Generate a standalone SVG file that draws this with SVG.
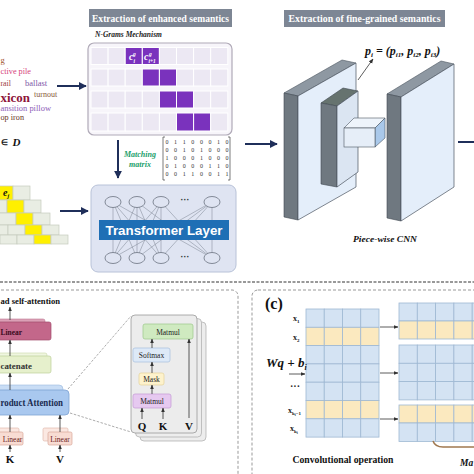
<svg xmlns="http://www.w3.org/2000/svg" width="474" height="474" viewBox="0 0 474 474">
<defs>
<marker id="nav" viewBox="0 0 10 10" refX="9" refY="5" markerWidth="4" markerHeight="4" orient="auto" markerUnits="strokeWidth"><path d="M0,0 L10,5 L0,10 z" fill="#1f2f5a"/></marker>
<marker id="sm" viewBox="0 0 10 10" refX="9" refY="5" markerWidth="6" markerHeight="6" orient="auto" markerUnits="strokeWidth"><path d="M0,1 L10,5 L0,9 z" fill="#333"/></marker>
</defs>
<style>
.serif{font-family:"Liberation Serif","Times New Roman",serif}
.b{font-weight:bold}
.it{font-style:italic}
.title{font-family:"Liberation Serif",serif;font-weight:bold;fill:#fff;font-size:9.5px}
.nav{stroke:#1f2f5a;stroke-width:2;fill:none;marker-end:url(#nav)}
.thin{stroke:#333;stroke-width:0.8;fill:none;marker-end:url(#sm)}
.cell{fill:#ece8f3;stroke:#fff;stroke-width:1}
.pur{fill:#7a32bd;stroke:#fff;stroke-width:1}
.emb{fill:#e9ede3;stroke:#c5cbbd;stroke-width:0.7}
.yel{fill:#fff000;stroke:#c5cbbd;stroke-width:0.7}
.node{fill:#dfe4f2;stroke:#6b7280;stroke-width:0.8}
.tl{stroke:#7a8290;stroke-width:0.5}
.gb{fill:#d4e3f3;stroke:#9fb8d3;stroke-width:0.8}
.gy{fill:#fbe9bf;stroke:#9fb8d3;stroke-width:0.8}
.dash{fill:none;stroke:#999;stroke-width:1;stroke-dasharray:3 2}
.lbl{font-family:"Liberation Serif",serif;font-size:7.5px;fill:#222;text-anchor:middle}
.big{font-family:"Liberation Serif",serif;font-weight:bold;font-size:11px;fill:#111;text-anchor:middle}
.mx{font-family:"Liberation Serif",serif;font-size:6px;fill:#333;text-anchor:middle}
</style>
<rect width="474" height="474" fill="#fff"/>

<!-- Panel borders -->
<g id="panels">
<line x1="0" y1="282" x2="474" y2="282" stroke="#999" stroke-width="1.8" stroke-dasharray="3 1.5"/>
<rect class="dash" x="-10" y="290" width="248" height="200" rx="6"/>
<rect class="dash" x="252" y="290" width="240" height="200" rx="6"/>
</g>

<!-- Word cloud (left part cropped in the picture) -->
<g id="lexicon" class="serif">
<text x="0.5" y="63" font-size="8.5" fill="#a0522d">g</text>
<text x="0.5" y="74" font-size="8.5" fill="#d6427c" textLength="30.5" lengthAdjust="spacingAndGlyphs">ctive pile</text>
<text x="0.5" y="86" font-size="8.5" fill="#a0413c" textLength="10.5" lengthAdjust="spacingAndGlyphs">rail</text>
<text x="25" y="85.5" font-size="8.5" fill="#7e57a8">ballast</text>
<text x="0.5" y="101.5" font-size="13" font-weight="bold" fill="#8e1537" textLength="29.5" lengthAdjust="spacingAndGlyphs">xicon</text>
<text x="34" y="97" font-size="8" fill="#8a5a3a">turnout</text>
<text x="0.5" y="111" font-size="8.5" fill="#8d5db8" textLength="50.5" lengthAdjust="spacingAndGlyphs">ansition pillow</text>
<text x="0.5" y="120" font-size="8.5" fill="#6a3522" textLength="23.5" lengthAdjust="spacingAndGlyphs">op iron</text>
<text x="0.5" y="145" font-size="8" font-weight="bold" fill="#111">∈</text>
<text x="12.5" y="146" font-size="11" font-weight="bold" font-style="italic" fill="#111">D</text>
</g>

<!-- Embedding staircase -->
<g id="embeddings">
<rect class="yel" x="-5" y="186" width="18" height="14"/><rect class="emb" x="13" y="186" width="17" height="14"/>
<rect class="emb" x="-10" y="200" width="17" height="13"/><rect class="yel" x="7" y="200" width="17" height="13"/><rect class="emb" x="24" y="200" width="17" height="13"/>
<rect class="emb" x="-1" y="213" width="17" height="12"/><rect class="yel" x="16" y="213" width="17" height="12"/><rect class="emb" x="33" y="213" width="17" height="12"/>
<rect class="emb" x="-9" y="225" width="17" height="10"/><rect class="emb" x="8" y="225" width="17" height="10"/><rect class="yel" x="25" y="225" width="17" height="10"/><rect class="emb" x="42" y="225" width="17" height="10"/>
<rect class="emb" x="0" y="235" width="17" height="9"/><rect class="emb" x="17" y="235" width="17" height="9"/><rect class="yel" x="34" y="235" width="17" height="9"/><rect class="emb" x="51" y="235" width="17" height="9"/>
<text class="serif b it" x="3" y="196" font-size="10" fill="#111">e<tspan font-size="6" dy="2">j</tspan></text>
</g>

<!-- Extraction of enhanced semantics -->
<g id="title1">
<rect x="89" y="9" width="143" height="18" fill="#7d8694"/>
<text class="title" x="160.5" y="21.5" text-anchor="middle" textLength="137" lengthAdjust="spacingAndGlyphs">Extraction of enhanced semantics</text>
</g>
<g id="ngrams">
<text class="serif b it" x="95" y="37" font-size="7.5" fill="#222">N-Grams Mechanism</text>
<rect x="88" y="43" width="144" height="92" rx="6" fill="#f7f5fa" stroke="#b0aab8" stroke-width="1.2"/>
<g>
<rect class="cell" x="91" y="47.5" width="17.1" height="17"/><rect class="cell" x="108.1" y="47.5" width="17.1" height="17"/><rect class="pur" x="125.2" y="47.5" width="17.1" height="17"/><rect class="pur" x="142.3" y="47.5" width="17.1" height="17"/><rect class="cell" x="159.4" y="47.5" width="17.1" height="17"/><rect class="cell" x="176.5" y="47.5" width="17.1" height="17"/><rect class="cell" x="193.6" y="47.5" width="17.1" height="17"/><rect class="cell" x="210.7" y="47.5" width="17.1" height="17"/>
<rect class="cell" x="91" y="69" width="17.1" height="17"/><rect class="cell" x="108.1" y="69" width="17.1" height="17"/><rect class="cell" x="125.2" y="69" width="17.1" height="17"/><rect class="pur" x="142.3" y="69" width="17.1" height="17"/><rect class="pur" x="159.4" y="69" width="17.1" height="17"/><rect class="cell" x="176.5" y="69" width="17.1" height="17"/><rect class="cell" x="193.6" y="69" width="17.1" height="17"/><rect class="cell" x="210.7" y="69" width="17.1" height="17"/>
<rect class="cell" x="91" y="91" width="17.1" height="17"/><rect class="cell" x="108.1" y="91" width="17.1" height="17"/><rect class="cell" x="125.2" y="91" width="17.1" height="17"/><rect class="cell" x="142.3" y="91" width="17.1" height="17"/><rect class="pur" x="159.4" y="91" width="17.1" height="17"/><rect class="pur" x="176.5" y="91" width="17.1" height="17"/><rect class="cell" x="193.6" y="91" width="17.1" height="17"/><rect class="cell" x="210.7" y="91" width="17.1" height="17"/>
<rect class="cell" x="91" y="113" width="17.1" height="18"/><rect class="cell" x="108.1" y="113" width="17.1" height="18"/><rect class="cell" x="125.2" y="113" width="17.1" height="18"/><rect class="cell" x="142.3" y="113" width="17.1" height="18"/><rect class="cell" x="159.4" y="113" width="17.1" height="18"/><rect class="pur" x="176.5" y="113" width="17.1" height="18"/><rect class="pur" x="193.6" y="113" width="17.1" height="18"/><rect class="cell" x="210.7" y="113" width="17.1" height="18"/>
</g>
<text class="serif b it" x="129" y="60" font-size="10" fill="#fff">c<tspan font-size="5.5" dy="2.5">i</tspan><tspan font-size="5.5" dx="-2" dy="-7">g</tspan></text>
<text class="serif b it" x="144" y="60" font-size="10" fill="#fff">c<tspan font-size="5.5" dy="2.5">i+1</tspan><tspan font-size="5.5" dx="-7" dy="-7">g</tspan></text>
</g>

<!-- Matching matrix -->
<g id="matrix">
<text class="serif b it" x="140" y="157" font-size="8" fill="#21a06a" text-anchor="middle">Matching</text>
<text class="serif b it" x="140" y="167" font-size="8" fill="#21a06a" text-anchor="middle">matrix</text>
<path d="M165,137 h-2 v43 h2 M228,137 h2 v43 h-2" fill="none" stroke="#444" stroke-width="0.7"/>
<text class="mx" y="144"><tspan x="167">0</tspan><tspan x="175.6">1</tspan><tspan x="184.2">1</tspan><tspan x="192.8">0</tspan><tspan x="201.4">0</tspan><tspan x="210">0</tspan><tspan x="218.6">1</tspan><tspan x="227">0</tspan></text>
<text class="mx" y="152"><tspan x="167">0</tspan><tspan x="175.6">0</tspan><tspan x="184.2">1</tspan><tspan x="192.8">0</tspan><tspan x="201.4">1</tspan><tspan x="210">0</tspan><tspan x="218.6">0</tspan><tspan x="227">0</tspan></text>
<text class="mx" y="160"><tspan x="167">1</tspan><tspan x="175.6">0</tspan><tspan x="184.2">0</tspan><tspan x="192.8">0</tspan><tspan x="201.4">1</tspan><tspan x="210">0</tspan><tspan x="218.6">0</tspan><tspan x="227">0</tspan></text>
<text class="mx" y="168"><tspan x="167">0</tspan><tspan x="175.6">1</tspan><tspan x="184.2">0</tspan><tspan x="192.8">0</tspan><tspan x="201.4">0</tspan><tspan x="210">1</tspan><tspan x="218.6">1</tspan><tspan x="227">0</tspan></text>
<text class="mx" y="176"><tspan x="167">0</tspan><tspan x="175.6">0</tspan><tspan x="184.2">1</tspan><tspan x="192.8">1</tspan><tspan x="201.4">0</tspan><tspan x="210">0</tspan><tspan x="218.6">1</tspan><tspan x="227">1</tspan></text>
</g>

<!-- Transformer -->
<g id="transformer">
<rect x="91" y="185" width="145" height="87" rx="7" fill="#dfe4f2" stroke="#b8c2d8" stroke-width="1"/>
<g>
<line class="tl" x1="113" y1="202" x2="113" y2="258"/><line class="tl" x1="113" y1="202" x2="137" y2="258"/><line class="tl" x1="113" y1="202" x2="161" y2="258"/><line class="tl" x1="113" y1="202" x2="212" y2="258"/>
<line class="tl" x1="137" y1="202" x2="113" y2="258"/><line class="tl" x1="137" y1="202" x2="137" y2="258"/><line class="tl" x1="137" y1="202" x2="161" y2="258"/><line class="tl" x1="137" y1="202" x2="212" y2="258"/>
<line class="tl" x1="161" y1="202" x2="113" y2="258"/><line class="tl" x1="161" y1="202" x2="137" y2="258"/><line class="tl" x1="161" y1="202" x2="161" y2="258"/><line class="tl" x1="161" y1="202" x2="212" y2="258"/>
<line class="tl" x1="212" y1="202" x2="113" y2="258"/><line class="tl" x1="212" y1="202" x2="137" y2="258"/><line class="tl" x1="212" y1="202" x2="161" y2="258"/><line class="tl" x1="212" y1="202" x2="212" y2="258"/>
</g>
<ellipse class="node" cx="113" cy="202" rx="8" ry="5.5"/><ellipse class="node" cx="137" cy="202" rx="8" ry="5.5"/><ellipse class="node" cx="161" cy="202" rx="8" ry="5.5"/><ellipse class="node" cx="212" cy="202" rx="8" ry="5.5"/>
<ellipse class="node" cx="113" cy="258" rx="8" ry="5.5"/><ellipse class="node" cx="137" cy="258" rx="8" ry="5.5"/><ellipse class="node" cx="161" cy="258" rx="8" ry="5.5"/><ellipse class="node" cx="212" cy="258" rx="8" ry="5.5"/>
<text x="185" y="203" font-family="Liberation Sans,sans-serif" font-weight="bold" font-size="9" text-anchor="middle" fill="#333">···</text>
<text x="185" y="260" font-family="Liberation Sans,sans-serif" font-weight="bold" font-size="9" text-anchor="middle" fill="#333">···</text>
<rect x="99" y="220" width="130" height="20" fill="#1f6fb5"/>
<text x="164" y="235" font-family="Liberation Sans,Arial,sans-serif" font-weight="bold" font-size="13" fill="#fff" text-anchor="middle" textLength="117" lengthAdjust="spacingAndGlyphs">Transformer Layer</text>
</g>

<!-- Extraction of fine-grained semantics -->
<g id="title2">
<rect x="284" y="10" width="161" height="17" fill="#7d8694"/>
<text class="title" x="364.5" y="22" text-anchor="middle" textLength="152" lengthAdjust="spacingAndGlyphs">Extraction of fine-grained semantics</text>
</g>
<g id="formula">
<text class="serif b it" x="365" y="55" font-size="12" fill="#111">p<tspan font-size="7" dy="2">i</tspan><tspan dy="-2"> = (p</tspan><tspan font-size="7" dy="2">i1</tspan><tspan dy="-2">, p</tspan><tspan font-size="7" dy="2">i2</tspan><tspan dy="-2">, p</tspan><tspan font-size="7" dy="2">i3</tspan><tspan dy="-2">)</tspan></text>
</g>

<!-- Piece-wise CNN -->
<g id="cnn">
<polygon points="284,93 298,96 356,63 342,60" fill="#8e98a2" stroke="#4c5560" stroke-width="0.6"/>
<polygon points="284,93 298,96 298,220 284,217" fill="#6f7880" stroke="#3f4850" stroke-width="0.6"/>
<polygon points="298,96 356,63 356,187 298,220" fill="#e4eefa" stroke="#4c5560" stroke-width="0.7"/>
<polygon points="321,103 337,106 358,91 343,88" fill="#66736f" stroke="#3f4850" stroke-width="0.6"/>
<polygon points="321,103 337,106 337,187 321,184" fill="#6f7880" stroke="#3f4850" stroke-width="0.6"/>
<polygon points="337,106 358,91 358,172 337,187" fill="#dbe5f2" stroke="#4c5560" stroke-width="0.7"/>
<polygon points="344,128 354,118 385,118 375,128" fill="#eef4fb" stroke="#4c5560" stroke-width="0.6"/>
<polygon points="375,128 385,118 385,138 375,147" fill="#a9c8ea" stroke="#4c5560" stroke-width="0.6"/>
<rect x="344" y="128" width="31" height="19" fill="#e6eef8" stroke="#4c5560" stroke-width="0.6"/>
<polygon points="387,94 401,97 454,64 441,61" fill="#8e98a2" stroke="#4c5560" stroke-width="0.6"/>
<polygon points="387,94 401,97 401,221 387,218" fill="#6f7880" stroke="#3f4850" stroke-width="0.6"/>
<polygon points="401,97 454,64 454,187 401,221" fill="#e4eefa" stroke="#4c5560" stroke-width="0.7"/>
<text class="serif b it" x="385" y="242" font-size="9" fill="#111" text-anchor="middle" textLength="64" lengthAdjust="spacingAndGlyphs">Piece-wise CNN</text>
</g>

<!-- Panel (b) -->
<g id="mhsa">
<text class="serif b" x="0.5" y="304" font-size="9" fill="#111" textLength="59.5" lengthAdjust="spacingAndGlyphs">ad self-attention</text>
</g>
<g id="linear-top">
<rect x="-10" y="319" width="55" height="17" rx="2" fill="#dba0b6" stroke="#c07a95" stroke-width="0.6"/>
<rect x="-10" y="322" width="61" height="18" rx="2" fill="#c3678a" stroke="#a04a6b" stroke-width="0.7"/>
<text class="serif b" x="0.5" y="334.5" font-size="9" fill="#3a0a20" textLength="21.5" lengthAdjust="spacingAndGlyphs">Linear</text>
</g>
<g id="concat">
<rect x="-10" y="353" width="57" height="17" rx="2" fill="#f0f6e0" stroke="#c9d9a8" stroke-width="0.6"/>
<rect x="-10" y="356" width="61" height="17" rx="2" fill="#e6f0cc" stroke="#bcd09a" stroke-width="0.7"/>
<text class="serif b" x="0.5" y="368.5" font-size="9" fill="#333" textLength="31.5" lengthAdjust="spacingAndGlyphs">catenate</text>
</g>
<g id="attention">
<rect x="-10" y="385" width="73" height="25" rx="4" fill="#c9ddf5" stroke="#9ab8de" stroke-width="0.6"/>
<rect x="-10" y="390" width="79" height="25" rx="4" fill="#a9c8ef" stroke="#7fa3d3" stroke-width="0.8"/>
<text class="serif b" x="0.5" y="406" font-size="9.5" fill="#1a2a50" textLength="62.5" lengthAdjust="spacingAndGlyphs">roduct Attention</text>
</g>
<g id="linear-k">
<rect x="-14" y="428" width="33" height="13" rx="1.5" fill="#fbe8e2" stroke="#dcb0a3" stroke-width="0.6"/>
<rect x="-10" y="432" width="33" height="13" rx="1.5" fill="#f8dcd3" stroke="#d9a89a" stroke-width="0.7"/>
<text class="serif" x="12.5" y="441.5" font-size="7.5" fill="#6b2020" text-anchor="middle">Linear</text>
<text class="big" x="10" y="463">K</text>
</g>
<g id="linear-v">
<rect x="43" y="428" width="25" height="13" rx="1.5" fill="#fbe8e2" stroke="#dcb0a3" stroke-width="0.6"/>
<rect x="48" y="432" width="24" height="13" rx="1.5" fill="#f8dcd3" stroke="#d9a89a" stroke-width="0.7"/>
<text class="serif" x="60" y="441.5" font-size="7.5" fill="#6b2020" text-anchor="middle">Linear</text>
<text class="big" x="60" y="463">V</text>
</g>
<g id="inset">
<line x1="68" y1="389" x2="131" y2="316" stroke="#888" stroke-width="0.7" stroke-dasharray="2.5 1.5"/>
<line x1="70" y1="413" x2="131" y2="432" stroke="#888" stroke-width="0.7" stroke-dasharray="2.5 1.5"/>
<rect x="140" y="322" width="66" height="119" rx="4" fill="#ededed" stroke="#aaa" stroke-width="0.7"/>
<rect x="135.5" y="318.5" width="66" height="118.5" rx="4" fill="#ededed" stroke="#aaa" stroke-width="0.7"/>
<rect x="131" y="315" width="66" height="118" rx="4" fill="#ececec" stroke="#999" stroke-width="0.8"/>
</g>
<g id="matmul2">
<rect x="143" y="324" width="50" height="15" rx="2" fill="#cfeac0" stroke="#9cc98a" stroke-width="0.7"/>
<text class="lbl" x="168" y="334.5">Matmul</text>
</g>
<g id="softmax">
<rect x="133" y="348" width="37" height="14" rx="2" fill="#dde9f7" stroke="#a7c0de" stroke-width="0.7"/>
<text class="lbl" x="151.5" y="358">Softmax</text>
</g>
<g id="mask">
<rect x="139" y="373" width="25" height="12" rx="2" fill="#fdf2cc" stroke="#e5d39a" stroke-width="0.7"/>
<text class="lbl" x="151.5" y="382">Mask</text>
</g>
<g id="matmul1">
<rect x="133" y="394" width="38" height="14" rx="2" fill="#e6c9f0" stroke="#c49ad6" stroke-width="0.7"/>
<text class="lbl" x="152" y="404">Matmul</text>
</g>
<g id="qkv">
<text class="big" x="142" y="429.5">Q</text>
<text class="big" x="163" y="429.5">K</text>
<text class="big" x="189" y="429.5">V</text>
</g>

<!-- Panel (c) -->
<g id="panel-c">
<text class="serif b" x="265" y="309" font-size="16" fill="#111">(c)</text>
<g id="grid1">
<rect class="gb" x="306" y="309" width="18.25" height="18.3"/><rect class="gb" x="324.25" y="309" width="18.25" height="18.3"/><rect class="gb" x="342.5" y="309" width="18.25" height="18.3"/><rect class="gb" x="360.75" y="309" width="18.25" height="18.3"/>
<rect class="gy" x="306" y="327.3" width="18.25" height="18.3"/><rect class="gy" x="324.25" y="327.3" width="18.25" height="18.3"/><rect class="gy" x="342.5" y="327.3" width="18.25" height="18.3"/><rect class="gy" x="360.75" y="327.3" width="18.25" height="18.3"/>
<rect class="gb" x="306" y="345.6" width="18.25" height="18.3"/><rect class="gb" x="324.25" y="345.6" width="18.25" height="18.3"/><rect class="gb" x="342.5" y="345.6" width="18.25" height="18.3"/><rect class="gb" x="360.75" y="345.6" width="18.25" height="18.3"/>
<rect class="gb" x="306" y="363.9" width="18.25" height="18.3"/><rect class="gb" x="324.25" y="363.9" width="18.25" height="18.3"/><rect class="gb" x="342.5" y="363.9" width="18.25" height="18.3"/><rect class="gb" x="360.75" y="363.9" width="18.25" height="18.3"/>
<rect class="gb" x="306" y="382.2" width="18.25" height="18.3"/><rect class="gb" x="324.25" y="382.2" width="18.25" height="18.3"/><rect class="gb" x="342.5" y="382.2" width="18.25" height="18.3"/><rect class="gb" x="360.75" y="382.2" width="18.25" height="18.3"/>
<rect class="gy" x="306" y="400.5" width="18.25" height="18.3"/><rect class="gy" x="324.25" y="400.5" width="18.25" height="18.3"/><rect class="gy" x="342.5" y="400.5" width="18.25" height="18.3"/><rect class="gy" x="360.75" y="400.5" width="18.25" height="18.3"/>
<rect class="gb" x="306" y="418.8" width="18.25" height="18.3"/><rect class="gb" x="324.25" y="418.8" width="18.25" height="18.3"/><rect class="gb" x="342.5" y="418.8" width="18.25" height="18.3"/><rect class="gb" x="360.75" y="418.8" width="18.25" height="18.3"/>
</g>
<text class="serif b" x="293" y="321" font-size="8" fill="#222">x<tspan font-size="5" dy="2">1</tspan></text>
<text class="serif b" x="293" y="339.5" font-size="8" fill="#222">x<tspan font-size="5" dy="2">2</tspan></text>
<text class="serif b" x="295" y="390" font-size="10" fill="#222" text-anchor="middle">···</text>
<text class="serif b" x="288" y="412.5" font-size="8" fill="#222">x<tspan font-size="5" dy="2">k<tspan font-size="3.5" dy="1">i</tspan><tspan dy="-1">−1</tspan></tspan></text>
<text class="serif b" x="290" y="430.5" font-size="8" fill="#222">x<tspan font-size="5" dy="2">k<tspan font-size="3.5" dy="1">i</tspan></tspan></text>
<text class="serif b it" x="266" y="367" font-size="13" fill="#111">Wq + b<tspan font-size="8" dy="3">i</tspan></text>
<g id="grid2a">
<rect class="gb" x="399" y="303" width="18.3" height="18"/><rect class="gb" x="417.3" y="303" width="18.3" height="18"/><rect class="gb" x="435.6" y="303" width="18.3" height="18"/><rect class="gb" x="453.9" y="303" width="18.3" height="18"/><rect class="gb" x="472.2" y="303" width="18.3" height="18"/>
<rect class="gy" x="399" y="321" width="18.3" height="18"/><rect class="gy" x="417.3" y="321" width="18.3" height="18"/><rect class="gy" x="435.6" y="321" width="18.3" height="18"/><rect class="gy" x="453.9" y="321" width="18.3" height="18"/><rect class="gy" x="472.2" y="321" width="18.3" height="18"/>
</g>
<g id="grid2b">
<rect class="gb" x="399" y="345" width="18.3" height="18.3"/><rect class="gb" x="417.3" y="345" width="18.3" height="18.3"/><rect class="gb" x="435.6" y="345" width="18.3" height="18.3"/><rect class="gb" x="453.9" y="345" width="18.3" height="18.3"/><rect class="gb" x="472.2" y="345" width="18.3" height="18.3"/>
<rect class="gb" x="399" y="363.3" width="18.3" height="18.3"/><rect class="gb" x="417.3" y="363.3" width="18.3" height="18.3"/><rect class="gb" x="435.6" y="363.3" width="18.3" height="18.3"/><rect class="gb" x="453.9" y="363.3" width="18.3" height="18.3"/><rect class="gb" x="472.2" y="363.3" width="18.3" height="18.3"/>
<rect class="gb" x="399" y="381.6" width="18.3" height="18.3"/><rect class="gb" x="417.3" y="381.6" width="18.3" height="18.3"/><rect class="gb" x="435.6" y="381.6" width="18.3" height="18.3"/><rect class="gb" x="453.9" y="381.6" width="18.3" height="18.3"/><rect class="gb" x="472.2" y="381.6" width="18.3" height="18.3"/>
</g>
<g id="grid2c">
<rect class="gy" x="399" y="405" width="18.3" height="18"/><rect class="gy" x="417.3" y="405" width="18.3" height="18"/><rect class="gy" x="435.6" y="405" width="18.3" height="18"/><rect class="gy" x="453.9" y="405" width="18.3" height="18"/><rect class="gy" x="472.2" y="405" width="18.3" height="18"/>
<rect class="gb" x="399" y="423" width="18.3" height="18.5"/><rect class="gb" x="417.3" y="423" width="18.3" height="18.5"/><rect class="gb" x="435.6" y="423" width="18.3" height="18.5"/><rect class="gb" x="453.9" y="423" width="18.3" height="18.5"/><rect class="gb" x="472.2" y="423" width="18.3" height="18.5"/>
</g>
<path d="M433,441 q2,6 10,6 L476,447" fill="none" stroke="#a0784f" stroke-width="1.5"/>
<text class="serif b" x="343" y="463" font-size="9.5" fill="#111" text-anchor="middle" textLength="101" lengthAdjust="spacingAndGlyphs">Convolutional operation</text>
<text class="serif b it" x="460" y="466" font-size="9.5" fill="#111">Ma</text>
</g>

<!-- Connectors -->
<g id="connectors">
<line class="nav" x1="57" y1="86" x2="86" y2="86"/>
<line class="nav" x1="118" y1="140" x2="118" y2="178"/>
<line class="nav" x1="60" y1="211" x2="88" y2="211"/>
<line class="nav" x1="245" y1="144" x2="277" y2="144"/>
<line x1="458" y1="142" x2="476" y2="142" stroke="#1f2f5a" stroke-width="2"/>
<line class="thin" x1="358" y1="80" x2="373" y2="59"/>
<line class="thin" x1="10" y1="320" x2="10" y2="307"/>
<line class="thin" x1="10" y1="356" x2="10" y2="340"/>
<line class="thin" x1="10" y1="390" x2="10" y2="373"/>
<line class="thin" x1="10" y1="432" x2="10" y2="415"/>
<line class="thin" x1="60" y1="432" x2="60" y2="415"/>
<line class="thin" x1="10" y1="452" x2="10" y2="445"/>
<line class="thin" x1="60" y1="452" x2="60" y2="445"/>
<line class="thin" x1="152" y1="394" x2="152" y2="385"/>
<line class="thin" x1="152" y1="373" x2="152" y2="362"/>
<line class="thin" x1="152" y1="348" x2="152" y2="339"/>
<line class="thin" x1="142" y1="419" x2="142" y2="408"/>
<line class="thin" x1="163" y1="419" x2="163" y2="408"/>
<line class="thin" x1="189" y1="418" x2="189" y2="339"/>
<line class="thin" x1="289" y1="374" x2="305" y2="374"/>
<line class="thin" x1="380" y1="327" x2="398" y2="327"/>
<line class="thin" x1="380" y1="373" x2="398" y2="373"/>
<line class="thin" x1="380" y1="419" x2="398" y2="419"/>
</g>
</svg>
